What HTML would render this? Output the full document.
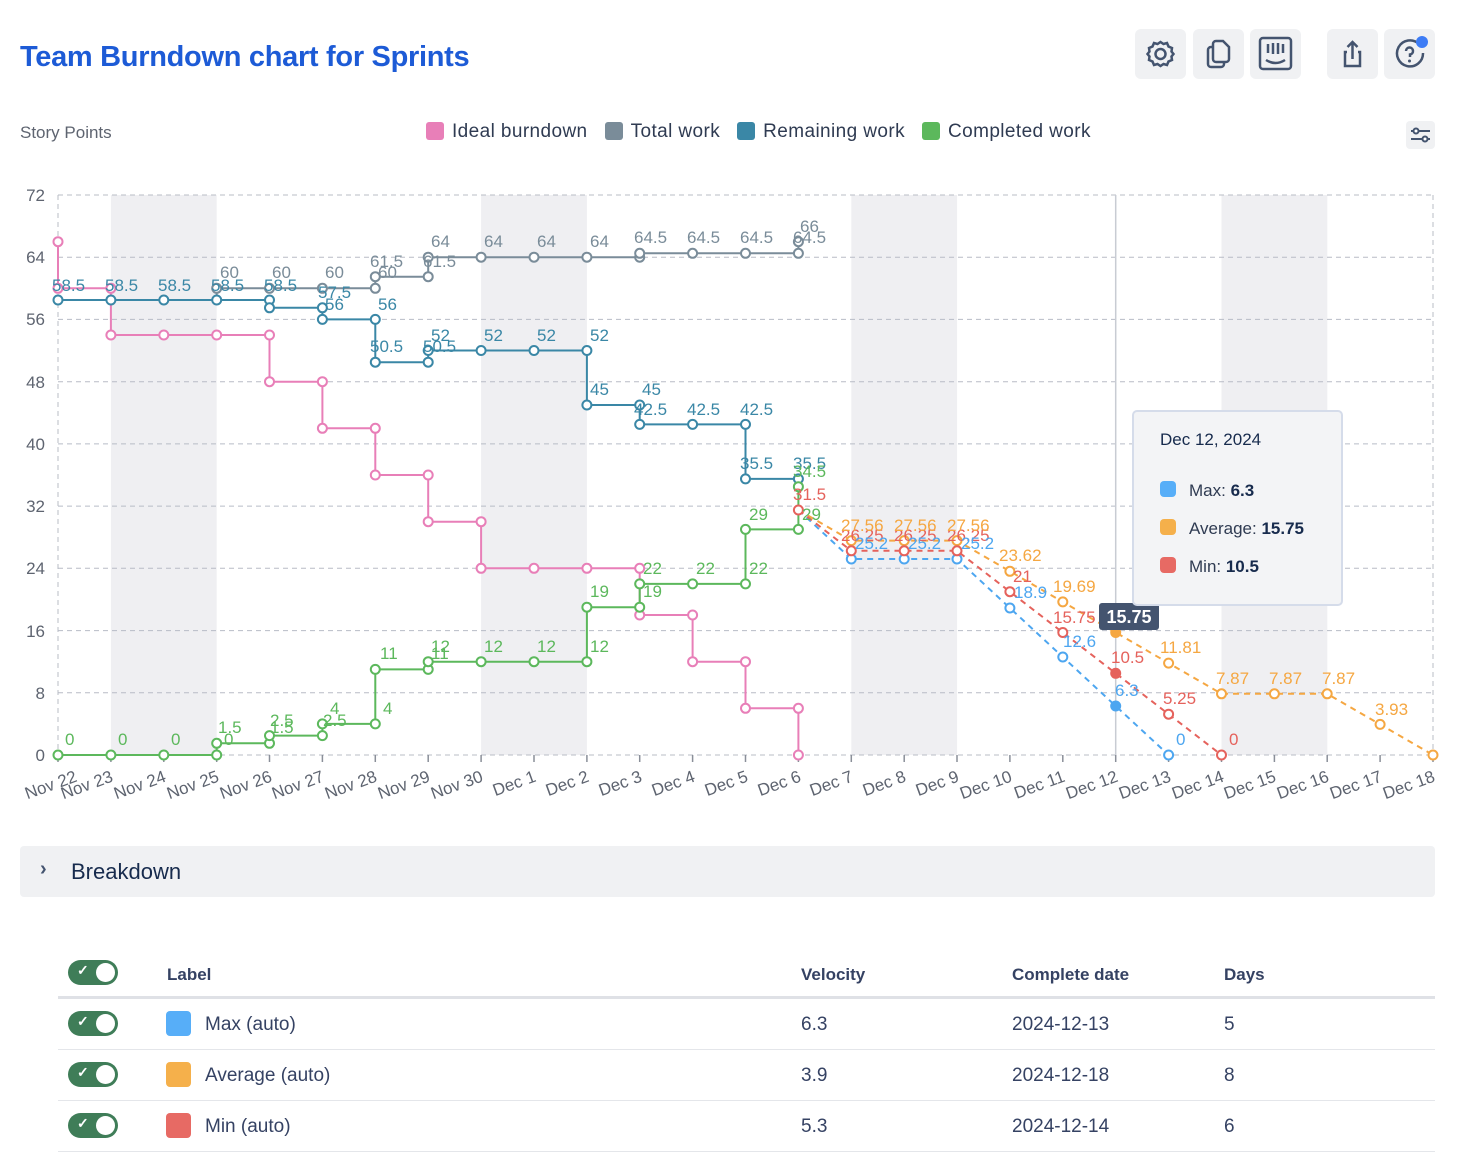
<!DOCTYPE html>
<html><head><meta charset="utf-8"><style>
body{margin:0;width:1460px;height:1164px;background:#fff;font-family:"Liberation Sans",sans-serif;overflow:hidden;position:relative;color:#172b4d}
.btn{position:absolute;top:29px;width:51px;height:50px;background:#f0f1f3;border-radius:6px}
.abs{position:absolute}
.row{position:absolute;left:58px;width:1377px;height:51px;border-bottom:1px solid #e4e6ea;font-size:19px;color:#354263}
.row span{position:absolute;top:16px}
.tog{position:absolute;left:10px;top:13px;width:50px;height:25px;border-radius:13px;background:#3f7d58}
.tog:after{content:"";position:absolute;right:3px;top:3px;width:19px;height:19px;border-radius:50%;background:#fff}
.tog:before{content:"✓";position:absolute;left:9px;top:2px;color:#fff;font-size:14px;font-weight:bold}
.sw{position:absolute;left:108px;top:13px;width:25px;height:25px;border-radius:4px}
.lg{display:inline-block;width:18px;height:18px;border-radius:3px;vertical-align:-3px;margin-right:8px}
</style></head><body>
<div class="abs" style="left:20px;top:41px;font-size:29px;font-weight:bold;color:#1d5bd6;letter-spacing:-0.3px">Team Burndown chart for Sprints</div>
<div class="btn" style="left:1135px"><svg width="51" height="50"><g fill="none" stroke="#44546f" stroke-width="2.5"><circle cx="25.5" cy="25" r="5"/><path d="M25.5 13l3 2 3.5-1 1.5 3.5 3.5 1.5-.5 3.5 2 2.5-2 2.5.5 3.5-3.5 1.5-1.5 3.5-3.5-1-3 2-3-2-3.5 1-1.5-3.5-3.5-1.5.5-3.5-2-2.5 2-2.5-.5-3.5 3.5-1.5 1.5-3.5 3.5 1z"/></g></svg></div>
<div class="btn" style="left:1193px"><svg width="51" height="50"><g fill="none" stroke="#44546f" stroke-width="2.5"><path d="M20 18h-2a3 3 0 0 0-3 3v14a3 3 0 0 0 3 3h10a3 3 0 0 0 3-3v-1"/><path d="M20 15a3 3 0 0 1 3-3h7l6 6v12a3 3 0 0 1-3 3h-10a3 3 0 0 1-3-3z"/></g></svg></div>
<div class="btn" style="left:1250px"><svg width="51" height="50"><g fill="none" stroke="#44546f" stroke-width="2.5"><rect x="10" y="9" width="31" height="31" rx="3"/><path d="M18 15v9M23 14v11M28 14v11M33 15v9M16 31q9.5 6 19 0"/></g></svg></div>
<div class="btn" style="left:1327px"><svg width="51" height="50"><g fill="none" stroke="#44546f" stroke-width="2.5"><path d="M20 23h-2v14h15v-14h-2M25.5 30v-17M20.5 18l5-5 5 5"/></g></svg></div>
<div class="btn" style="left:1384px"><svg width="51" height="50"><g fill="none" stroke="#44546f" stroke-width="2.5"><path d="M35 15a13 13 0 1 0 4 9"/><path d="M22 22a3.5 3.5 0 1 1 4 3.5v2.5"/></g><circle cx="25.5" cy="32" r="1.5" fill="#44546f"/><circle cx="38" cy="13" r="6" fill="#3d7cf5"/></svg></div>
<div class="abs" style="left:1406px;top:121px;width:29px;height:28px;background:#f0f1f3;border-radius:4px"><svg width="29" height="28"><g stroke="#44546f" stroke-width="2" fill="#fff"><path d="M5 10h19M5 18h19"/><circle cx="10" cy="10" r="2.5"/><circle cx="19" cy="18" r="2.5"/></g></svg></div>
<div class="abs" style="left:20px;top:123px;font-size:17px;color:#5e6470">Story Points</div>
<div class="abs" style="left:426px;top:121px;font-size:19px;color:#2f3b52;white-space:nowrap;letter-spacing:0.4px">
<span class="lg" style="background:#e87fb8"></span>Ideal burndown&nbsp;&nbsp;
<span class="lg" style="background:#7a8c99"></span>Total work&nbsp;&nbsp;
<span class="lg" style="background:#3a87a6"></span>Remaining work&nbsp;&nbsp;
<span class="lg" style="background:#5cb85c"></span>Completed work</div>

<svg class="abs" style="left:0;top:0" width="1460" height="830" font-family="Liberation Sans, sans-serif">
<g fill="#efeff2"><rect x="110.9" y="195" width="105.8" height="560"/><rect x="481.1" y="195" width="105.8" height="560"/><rect x="851.3" y="195" width="105.8" height="560"/><rect x="1221.5" y="195" width="105.8" height="560"/></g>
<g stroke="#b8bcc6" stroke-dasharray="5,4" stroke-width="1"><path d="M58 195H1433M58 257.2H1433M58 319.4H1433M58 381.7H1433M58 443.9H1433M58 506.1H1433M58 568.3H1433M58 630.6H1433M58 692.8H1433M58 755H1433M58 195V755M1433 195V755"/></g>
<path d="M1115.7 195V755" stroke="#c8ccd3" stroke-width="1.5"/>
<g fill="#5e6470" font-size="17" text-anchor="end"><text x="45" y="201">72</text><text x="45" y="263">64</text><text x="45" y="325">56</text><text x="45" y="388">48</text><text x="45" y="450">40</text><text x="45" y="512">32</text><text x="45" y="574">24</text><text x="45" y="637">16</text><text x="45" y="699">8</text><text x="45" y="761">0</text></g>
<g stroke="#8a8f99" stroke-width="1.5"><path d="M58 755v7M110.9 755v7M163.8 755v7M216.7 755v7M269.5 755v7M322.4 755v7M375.3 755v7M428.2 755v7M481.1 755v7M534 755v7M586.9 755v7M639.7 755v7M692.6 755v7M745.5 755v7M798.4 755v7M851.3 755v7M904.2 755v7M957 755v7M1009.9 755v7M1062.8 755v7M1115.7 755v7M1168.6 755v7M1221.5 755v7M1274.4 755v7M1327.2 755v7M1380.1 755v7M1433 755v7"/></g>
<g fill="#5e6470" font-size="17" text-anchor="end">
<text transform="translate(78,781) rotate(-20)">Nov 22</text><text transform="translate(114,781) rotate(-20)">Nov 23</text><text transform="translate(167,781) rotate(-20)">Nov 24</text><text transform="translate(220,781) rotate(-20)">Nov 25</text><text transform="translate(273,781) rotate(-20)">Nov 26</text><text transform="translate(325,781) rotate(-20)">Nov 27</text><text transform="translate(378,781) rotate(-20)">Nov 28</text><text transform="translate(431,781) rotate(-20)">Nov 29</text><text transform="translate(484,781) rotate(-20)">Nov 30</text><text transform="translate(537,781) rotate(-20)">Dec 1</text><text transform="translate(590,781) rotate(-20)">Dec 2</text><text transform="translate(643,781) rotate(-20)">Dec 3</text><text transform="translate(696,781) rotate(-20)">Dec 4</text><text transform="translate(749,781) rotate(-20)">Dec 5</text><text transform="translate(802,781) rotate(-20)">Dec 6</text><text transform="translate(854,781) rotate(-20)">Dec 7</text><text transform="translate(907,781) rotate(-20)">Dec 8</text><text transform="translate(960,781) rotate(-20)">Dec 9</text><text transform="translate(1013,781) rotate(-20)">Dec 10</text><text transform="translate(1066,781) rotate(-20)">Dec 11</text><text transform="translate(1119,781) rotate(-20)">Dec 12</text><text transform="translate(1172,781) rotate(-20)">Dec 13</text><text transform="translate(1225,781) rotate(-20)">Dec 14</text><text transform="translate(1277,781) rotate(-20)">Dec 15</text><text transform="translate(1330,781) rotate(-20)">Dec 16</text><text transform="translate(1383,781) rotate(-20)">Dec 17</text><text transform="translate(1436,781) rotate(-20)">Dec 18</text></g>

<g fill="none" stroke-width="2">
<polyline stroke="#e87fb8" points="58,241.7 58,288.3 110.9,288.3 110.9,335 269.5,335 269.5,381.7 322.4,381.7 322.4,428.3 375.3,428.3 375.3,475 428.2,475 428.2,521.7 481.1,521.7 481.1,568.3 639.7,568.3 639.7,615 692.6,615 692.6,661.7 745.5,661.7 745.5,708.3 798.4,708.3 798.4,755"/>
<polyline stroke="#7a8c99" points="58,300 216.7,300 216.7,288.3 375.3,288.3 375.3,276.7 428.2,276.7 428.2,257.2 639.7,257.2 639.7,253.3 798.4,253.3 798.4,241.7"/>
<polyline stroke="#3a87a6" points="58,300 269.5,300 269.5,307.8 322.4,307.8 322.4,319.4 375.3,319.4 375.3,362.2 428.2,362.2 428.2,350.5 586.9,350.5 586.9,405 639.7,405 639.7,424.4 745.5,424.4 745.5,478.9 798.4,478.9"/>
<polyline stroke="#5cb85c" points="58,755 216.7,755 216.7,743.3 269.5,743.3 269.5,735.6 322.4,735.6 322.4,723.9 375.3,723.9 375.3,669.4 428.2,669.4 428.2,661.7 586.9,661.7 586.9,607.2 639.7,607.2 639.7,583.9 745.5,583.9 745.5,529.4 798.4,529.4 798.4,486.7"/>
<g stroke-dasharray="6,5">
<polyline stroke="#4da6f0" points="798.4,510 851.3,559 957,559 1009.9,608 1062.8,657 1115.7,706 1168.6,755"/>
<polyline stroke="#f5a742" points="798.4,510 851.3,540.6 957,540.6 1009.9,571.3 1062.8,601.9 1115.7,632.5 1168.6,663.1 1221.5,693.8 1327.2,693.8 1380.1,724.4 1433,755"/>
<polyline stroke="#e5625c" points="798.4,510 851.3,550.8 957,550.8 1009.9,591.7 1062.8,632.5 1115.7,673.3 1168.6,714.2 1221.5,755"/>
</g></g>
<g fill="#fff" stroke-width="2">
<g stroke="#e87fb8"><circle cx="58" cy="241.7" r="4.5"/><circle cx="58" cy="288.3" r="4.5"/><circle cx="110.9" cy="288.3" r="4.5"/><circle cx="110.9" cy="335" r="4.5"/><circle cx="163.8" cy="335" r="4.5"/><circle cx="216.7" cy="335" r="4.5"/><circle cx="269.5" cy="335" r="4.5"/><circle cx="269.5" cy="381.7" r="4.5"/><circle cx="322.4" cy="381.7" r="4.5"/><circle cx="322.4" cy="428.3" r="4.5"/><circle cx="375.3" cy="428.3" r="4.5"/><circle cx="375.3" cy="475" r="4.5"/><circle cx="428.2" cy="475" r="4.5"/><circle cx="428.2" cy="521.7" r="4.5"/><circle cx="481.1" cy="521.7" r="4.5"/><circle cx="481.1" cy="568.3" r="4.5"/><circle cx="534" cy="568.3" r="4.5"/><circle cx="586.9" cy="568.3" r="4.5"/><circle cx="639.7" cy="568.3" r="4.5"/><circle cx="639.7" cy="615" r="4.5"/><circle cx="692.6" cy="615" r="4.5"/><circle cx="692.6" cy="661.7" r="4.5"/><circle cx="745.5" cy="661.7" r="4.5"/><circle cx="745.5" cy="708.3" r="4.5"/><circle cx="798.4" cy="708.3" r="4.5"/><circle cx="798.4" cy="755" r="4.5"/></g>
<g stroke="#7a8c99"><circle cx="216.7" cy="288.3" r="4.5"/><circle cx="269.5" cy="288.3" r="4.5"/><circle cx="322.4" cy="288.3" r="4.5"/><circle cx="375.3" cy="288.3" r="4.5"/><circle cx="375.3" cy="276.7" r="4.5"/><circle cx="428.2" cy="276.7" r="4.5"/><circle cx="428.2" cy="257.2" r="4.5"/><circle cx="481.1" cy="257.2" r="4.5"/><circle cx="534" cy="257.2" r="4.5"/><circle cx="586.9" cy="257.2" r="4.5"/><circle cx="639.7" cy="257.2" r="4.5"/><circle cx="639.7" cy="253.3" r="4.5"/><circle cx="692.6" cy="253.3" r="4.5"/><circle cx="745.5" cy="253.3" r="4.5"/><circle cx="798.4" cy="253.3" r="4.5"/><circle cx="798.4" cy="241.7" r="4.5"/></g>
<g stroke="#3a87a6"><circle cx="58" cy="300" r="4.5"/><circle cx="110.9" cy="300" r="4.5"/><circle cx="163.8" cy="300" r="4.5"/><circle cx="216.7" cy="300" r="4.5"/><circle cx="269.5" cy="300" r="4.5"/><circle cx="269.5" cy="307.8" r="4.5"/><circle cx="322.4" cy="307.8" r="4.5"/><circle cx="322.4" cy="319.4" r="4.5"/><circle cx="375.3" cy="319.4" r="4.5"/><circle cx="375.3" cy="362.2" r="4.5"/><circle cx="428.2" cy="362.2" r="4.5"/><circle cx="428.2" cy="350.5" r="4.5"/><circle cx="481.1" cy="350.5" r="4.5"/><circle cx="534" cy="350.5" r="4.5"/><circle cx="586.9" cy="350.5" r="4.5"/><circle cx="586.9" cy="405" r="4.5"/><circle cx="639.7" cy="405" r="4.5"/><circle cx="639.7" cy="424.4" r="4.5"/><circle cx="692.6" cy="424.4" r="4.5"/><circle cx="745.5" cy="424.4" r="4.5"/><circle cx="745.5" cy="478.9" r="4.5"/><circle cx="798.4" cy="478.9" r="4.5"/></g>
<g stroke="#5cb85c"><circle cx="58" cy="755" r="4.5"/><circle cx="110.9" cy="755" r="4.5"/><circle cx="163.8" cy="755" r="4.5"/><circle cx="216.7" cy="755" r="4.5"/><circle cx="216.7" cy="743.3" r="4.5"/><circle cx="269.5" cy="743.3" r="4.5"/><circle cx="269.5" cy="735.6" r="4.5"/><circle cx="322.4" cy="735.6" r="4.5"/><circle cx="322.4" cy="723.9" r="4.5"/><circle cx="375.3" cy="723.9" r="4.5"/><circle cx="375.3" cy="669.4" r="4.5"/><circle cx="428.2" cy="669.4" r="4.5"/><circle cx="428.2" cy="661.7" r="4.5"/><circle cx="481.1" cy="661.7" r="4.5"/><circle cx="534" cy="661.7" r="4.5"/><circle cx="586.9" cy="661.7" r="4.5"/><circle cx="586.9" cy="607.2" r="4.5"/><circle cx="639.7" cy="607.2" r="4.5"/><circle cx="639.7" cy="583.9" r="4.5"/><circle cx="692.6" cy="583.9" r="4.5"/><circle cx="745.5" cy="583.9" r="4.5"/><circle cx="745.5" cy="529.4" r="4.5"/><circle cx="798.4" cy="529.4" r="4.5"/><circle cx="798.4" cy="486.7" r="4.5"/></g>
<g stroke="#4da6f0"><circle cx="851.3" cy="559" r="4.5"/><circle cx="904.2" cy="559" r="4.5"/><circle cx="957" cy="559" r="4.5"/><circle cx="1009.9" cy="608" r="4.5"/><circle cx="1062.8" cy="657" r="4.5"/><circle cx="1115.7" cy="706" r="4.5" fill="#4da6f0"/><circle cx="1168.6" cy="755" r="4.5"/></g>
<g stroke="#f5a742"><circle cx="851.3" cy="540.6" r="4.5"/><circle cx="904.2" cy="540.6" r="4.5"/><circle cx="957" cy="540.6" r="4.5"/><circle cx="1009.9" cy="571.3" r="4.5"/><circle cx="1062.8" cy="601.9" r="4.5"/><circle cx="1115.7" cy="632.5" r="4.5" fill="#f5a742"/><circle cx="1168.6" cy="663.1" r="4.5"/><circle cx="1221.5" cy="693.8" r="4.5"/><circle cx="1274.4" cy="693.8" r="4.5"/><circle cx="1327.2" cy="693.8" r="4.5"/><circle cx="1380.1" cy="724.4" r="4.5"/><circle cx="1433" cy="755" r="4.5"/></g>
<g stroke="#e5625c"><circle cx="798.4" cy="510" r="4.5"/><circle cx="851.3" cy="550.8" r="4.5"/><circle cx="904.2" cy="550.8" r="4.5"/><circle cx="957" cy="550.8" r="4.5"/><circle cx="1009.9" cy="591.7" r="4.5"/><circle cx="1062.8" cy="632.5" r="4.5"/><circle cx="1115.7" cy="673.3" r="4.5" fill="#e5625c"/><circle cx="1168.6" cy="714.2" r="4.5"/><circle cx="1221.5" cy="755" r="4.5"/></g>
</g>
<g font-size="17">
<g fill="#3a87a6"><text x="52" y="291">58.5</text><text x="105" y="291">58.5</text><text x="158" y="291">58.5</text><text x="211" y="291">58.5</text><text x="264" y="291">58.5</text><text x="318" y="298">57.5</text><text x="325" y="310">56</text><text x="378" y="310">56</text><text x="370" y="352">50.5</text><text x="423" y="352">50.5</text><text x="431" y="341">52</text><text x="484" y="341">52</text><text x="537" y="341">52</text><text x="590" y="341">52</text><text x="590" y="395">45</text><text x="642" y="395">45</text><text x="634" y="415">42.5</text><text x="687" y="415">42.5</text><text x="740" y="415">42.5</text><text x="740" y="469">35.5</text><text x="793" y="469">35.5</text></g>
<g fill="#7a8c99"><text x="220" y="278">60</text><text x="272" y="278">60</text><text x="325" y="278">60</text><text x="370" y="267">61.5</text><text x="378" y="278">60</text><text x="423" y="267">61.5</text><text x="431" y="247">64</text><text x="484" y="247">64</text><text x="537" y="247">64</text><text x="590" y="247">64</text><text x="634" y="243">64.5</text><text x="687" y="243">64.5</text><text x="740" y="243">64.5</text><text x="793" y="243">64.5</text><text x="800" y="232">66</text></g>
<g fill="#5cb85c"><text x="65" y="745">0</text><text x="118" y="745">0</text><text x="171" y="745">0</text><text x="218" y="733">1.5</text><text x="224" y="745">0</text><text x="270" y="726">2.5</text><text x="270" y="733">1.5</text><text x="330" y="714">4</text><text x="323" y="726">2.5</text><text x="380" y="659">11</text><text x="383" y="714">4</text><text x="431" y="652">12</text><text x="431" y="659">11</text><text x="484" y="652">12</text><text x="537" y="652">12</text><text x="590" y="652">12</text><text x="590" y="597">19</text><text x="643" y="597">19</text><text x="643" y="574">22</text><text x="696" y="574">22</text><text x="749" y="574">22</text><text x="749" y="520">29</text><text x="802" y="520">29</text><text x="793" y="477">34.5</text></g>
<g fill="#e5625c"><text x="793" y="500">31.5</text><text x="841" y="541">26.25</text><text x="894" y="541">26.25</text><text x="947" y="541">26.25</text><text x="1013" y="582">21</text><text x="1053" y="623">15.75</text><text x="1111" y="663">10.5</text><text x="1163" y="704">5.25</text><text x="1229" y="745">0</text></g>
<g fill="#f5a742"><text x="841" y="531">27.56</text><text x="894" y="531">27.56</text><text x="947" y="531">27.56</text><text x="999" y="561">23.62</text><text x="1053" y="592">19.69</text><text x="1160" y="653">11.81</text><text x="1216" y="684">7.87</text><text x="1269" y="684">7.87</text><text x="1322" y="684">7.87</text><text x="1375" y="715">3.93</text></g>
<g fill="#4da6f0"><text x="855" y="549">25.2</text><text x="908" y="549">25.2</text><text x="961" y="549">25.2</text><text x="1014" y="598">18.9</text><text x="1063" y="647">12.6</text><text x="1115" y="696">6.3</text><text x="1176" y="745">0</text></g>
</g>
<rect x="1099" y="603" width="60" height="27" rx="3" fill="#44546f"/>
<text x="1129" y="623" fill="#fff" font-size="18" font-weight="bold" text-anchor="middle">15.75</text>
<rect x="1133" y="411" width="209" height="194" rx="4" fill="#f3f4f6" stroke="#d5dcea" stroke-width="2"/>
<text x="1160" y="445" font-size="17" fill="#172b4d">Dec 12, 2024</text>
<rect x="1160" y="481" width="16" height="16" rx="4" fill="#57aef8"/><text x="1189" y="496" font-size="17" fill="#2f3b52">Max: <tspan font-weight="bold" fill="#172b4d">6.3</tspan></text>
<rect x="1160" y="519" width="16" height="16" rx="4" fill="#f5b04b"/><text x="1189" y="534" font-size="17" fill="#2f3b52">Average: <tspan font-weight="bold" fill="#172b4d">15.75</tspan></text>
<rect x="1160" y="557" width="16" height="16" rx="4" fill="#e76a64"/><text x="1189" y="572" font-size="17" fill="#2f3b52">Min: <tspan font-weight="bold" fill="#172b4d">10.5</tspan></text>
</svg>

<div class="abs" style="left:20px;top:846px;width:1415px;height:51px;background:#f0f1f3;border-radius:4px">
<span class="abs" style="left:20px;top:12px;font-size:20px;color:#44546f;font-weight:bold">›</span>
<span class="abs" style="left:51px;top:13px;font-size:22px;color:#172b4d">Breakdown</span></div>
<div class="row" style="top:947px;border-bottom:3px solid #dfe1e6;height:49px;font-weight:bold;font-size:17px"><div class="tog"></div><span style="left:109px;top:18px">Label</span><span style="left:743px;top:18px">Velocity</span><span style="left:954px;top:18px">Complete date</span><span style="left:1166px;top:18px">Days</span></div>
<div class="row" style="top:998px"><div class="tog"></div><div class="sw" style="background:#57aef8"></div><span style="left:147px">Max (auto)</span><span style="left:743px">6.3</span><span style="left:954px">2024-12-13</span><span style="left:1166px">5</span></div>
<div class="row" style="top:1049px"><div class="tog"></div><div class="sw" style="background:#f5b04b"></div><span style="left:147px">Average (auto)</span><span style="left:743px">3.9</span><span style="left:954px">2024-12-18</span><span style="left:1166px">8</span></div>
<div class="row" style="top:1100px"><div class="tog"></div><div class="sw" style="background:#e76a64"></div><span style="left:147px">Min (auto)</span><span style="left:743px">5.3</span><span style="left:954px">2024-12-14</span><span style="left:1166px">6</span></div>
</body></html>
